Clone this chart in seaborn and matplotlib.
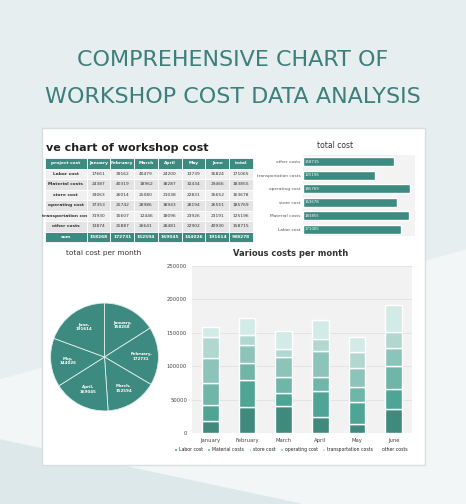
import matplotlib
matplotlib.use("Agg")
import matplotlib.pyplot as plt
import seaborn as sns
import numpy as np
import pandas as pd
from matplotlib.patches import Polygon, Rectangle

months = ["January", "February", "March", "April", "May", "June"]
categories = ["Labor cost", "Material costs", "store cost", "operating cost",
              "transportation costs", "other costs"]
labor = [17661, 39162, 40479, 24200, 13739, 35824]
material = [24387, 40319, 18962, 38287, 32434, 29466]
store = [33063, 26014, 25080, 21038, 22831, 35652]
operating = [37353, 25742, 28986, 38943, 28194, 26551]
transport = [31930, 15607, 12446, 18096, 23926, 23191]
other = [13874, 25887, 26641, 28481, 22902, 40930]
series = [labor, material, store, operating, transport, other]
colors = ["#3f8a7c", "#4fa595", "#6fb5a8", "#8dc4b9", "#b0d8cf", "#d3ebe6"]
teal = "#3d8a80"

sns.set_theme(style="white")
plt.rcParams['font.family'] = ['DejaVu Sans']
W, H = 466, 504
fig = plt.figure(figsize=(W/100, H/100), dpi=100)
fig.patch.set_facecolor("#e6eef0")
bg = fig.add_axes([0, 0, 1, 1]); bg.set_xlim(0, W); bg.set_ylim(H, 0); bg.axis("off")
bg.add_patch(Polygon([[0, 380], [466, 250], [466, 504], [0, 504]], color="#f2f6f7"))
bg.add_patch(Polygon([[0, 440], [300, 504], [0, 504]], color="#dde8ea"))
bg.add_patch(Rectangle((42, 128), 383, 337, color="white", ec="#d8dede"))
bg.text(233, 60, "COMPREHENSIVE CHART OF", ha="center", va="center", fontsize=16, color="#3d7f7a")
bg.text(233, 97, "WORKSHOP COST DATA ANALYSIS", ha="center", va="center", fontsize=16, color="#3d7f7a")
bg.text(46, 148, "ve chart of workshop cost", ha="left", va="center", fontsize=8, fontweight="bold", color="#222")

def ax_at(x0, y0, x1, y1):
    return fig.add_axes([x0/W, 1-y1/H, (x1-x0)/W, (y1-y0)/H])

# table
tax = ax_at(45, 158, 253, 242); tax.axis("off")
totals = [sum(s) for s in series]
sums = [sum(v) for v in zip(*series)]
cells = [[c] + [str(v) for v in s] + [str(t)] for c, s, t in zip(["Labor cost", "Material costs", "store cost", "operating cost", "transportation cost", "other costs"], series, totals)]
cells.append(["sum"] + [str(v) for v in sums] + [str(sum(sums))])
tbl = tax.table(cellText=cells, colLabels=["project cost"] + months + ["total"],
                bbox=[0, 0, 1, 1], cellLoc="center",
                colWidths=[0.2] + [0.8/7]*7)
tbl.auto_set_font_size(False); tbl.set_fontsize(3.2)
for (r, c), cell in tbl.get_celld().items():
    cell.set_edgecolor("white"); cell.set_linewidth(0.6)
    cell.PAD = 0.02
    if r == 0 or r == len(cells):
        cell.set_facecolor(teal); cell.get_text().set_color("white"); cell.get_text().set_fontweight("bold")
    else:
        cell.set_facecolor("#e4e4e4" if r % 2 == 0 else "#f0f0f0")
        cell.get_text().set_color("#333")
        if c == 0:
            cell.get_text().set_fontweight("bold")

# total cost bar
bg.add_patch(Rectangle((255, 137), 160, 103, color="#f3f3f3", zorder=0))
bg.text(335, 145, "total cost", ha="center", va="center", fontsize=5.5, color="#333")
bax = ax_at(303, 155, 415, 236)
bax.set_facecolor("#f3f3f3")
order = categories[::-1]
tv = dict(zip(categories, totals))
df = pd.DataFrame({"cat": order, "val": [tv[c] for c in order]})
sns.barplot(data=df, y="cat", x="val", color=teal, ax=bax, width=0.65, saturation=1)
for i, v in enumerate(df["val"]):
    bax.text(2000, i, str(v), va="center", fontsize=2.8, color="white")
bax.set_xlabel(""); bax.set_ylabel(""); bax.set_xticks([])
bax.set_xlim(0, 195000)
bax.tick_params(axis="y", labelsize=3.2, length=0, pad=2, colors="#555")
sns.despine(ax=bax, left=True, bottom=True)

# pie
bg.add_patch(Rectangle((45, 245), 118, 213, color="#f2f2f2", zorder=0))
bg.text(104, 253, "total cost per month", ha="center", va="center", fontsize=5.3, color="#333")
pax = ax_at(46, 302, 163, 412)
pax.pie(sums, startangle=90, counterclock=False, colors=[teal]*6,
        wedgeprops=dict(edgecolor="#dfeeeb", linewidth=0.6),
        labels=[f"{m},\n{v}" for m, v in zip(months, sums)], labeldistance=0.68,
        textprops=dict(fontsize=2.9, color="white", fontweight="bold", ha="center"))
pax.set_xlim(-1.02, 1.02); pax.set_ylim(-1.02, 1.02)
pax.set_aspect("equal")

# stacked bars
bg.add_patch(Rectangle((168, 245), 247, 213, color="#f2f2f2", zorder=0))
bg.text(291, 253, "Various costs per month", ha="center", va="center", fontsize=6, fontweight="bold", color="#333")
sax = ax_at(192, 266, 412, 433)
sax.set_facecolor("#f2f2f2")
long = pd.DataFrame([(m, c, v) for c, s in zip(categories, series) for m, v in zip(months, s)],
                    columns=["month", "cat", "val"])
bottom = np.zeros(6)
for c, col in zip(categories, colors):
    vals = long[long.cat == c]["val"].to_numpy()
    sax.bar(months, vals, bottom=bottom, color=col, width=0.45, label=c)
    bottom += vals
sax.set_ylim(0, 250000)
sax.set_yticks(range(0, 250001, 50000))
sax.yaxis.grid(True, color="#dddddd", linewidth=0.5)
sax.set_axisbelow(True)
sax.tick_params(labelsize=3.8, length=0, colors="#444")
for s in sax.spines.values(): s.set_visible(False)
sax.legend(loc="upper center", bbox_to_anchor=(0.45, -0.06), ncol=6, fontsize=3.3,
           frameon=False, handlelength=0.6, handleheight=0.6, columnspacing=1.0, handletextpad=0.4)

fig.savefig("out.png", dpi=100)
